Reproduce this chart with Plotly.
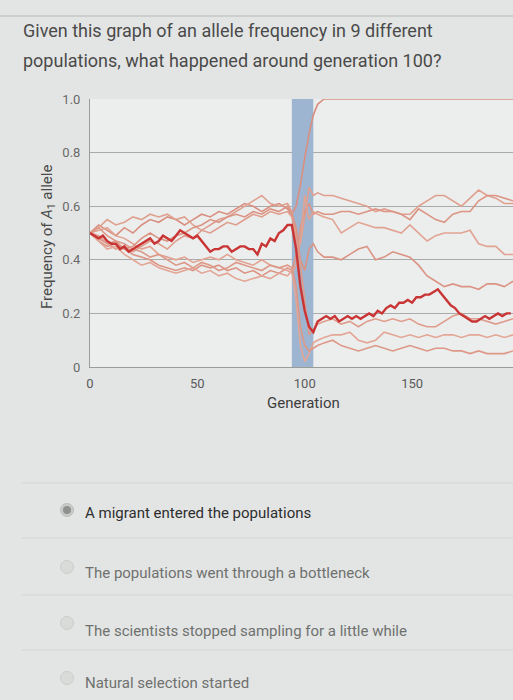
import plotly.graph_objects as go

# ---------------- data ----------------
generations = [0, 4, 8, 12, 16, 20, 24, 28, 32, 36, 40, 44, 48, 52, 56, 60, 64, 68, 72, 76, 80, 84, 88, 92,
               94, 96, 98, 100, 102, 104, 106,
               109, 113, 117, 121, 125, 129, 133, 137, 141, 145, 149, 153, 157, 161, 165, 169, 173, 177, 181,
               185, 189, 193, 197]
generations_main = list(range(0, 93, 2)) + [94, 96, 98, 100, 102, 104, 106] + list(range(108, 197, 2))

pop_fixed = [0.50, 0.53, 0.51, 0.49, 0.52, 0.50, 0.53, 0.55, 0.54, 0.56, 0.55, 0.53, 0.55, 0.57, 0.56, 0.58,
             0.57, 0.59, 0.61, 0.60, 0.58, 0.60, 0.61, 0.59,
             0.57, 0.60, 0.68, 0.78, 0.87, 0.94, 0.98,
             1.0, 1.0, 1.0, 1.0, 1.0, 1.0, 1.0, 1.0, 1.0, 1.0, 1.0, 1.0, 1.0, 1.0, 1.0, 1.0, 1.0, 1.0, 1.0,
             1.0, 1.0, 1.0, 1.0]
pop_a = [0.50, 0.52, 0.55, 0.53, 0.54, 0.56, 0.55, 0.57, 0.56, 0.57, 0.55, 0.56, 0.53, 0.51, 0.53, 0.55,
         0.56, 0.58, 0.60, 0.62, 0.64, 0.61, 0.60, 0.61,
         0.58, 0.50, 0.46, 0.56, 0.67, 0.64, 0.65,
         0.64, 0.64, 0.63, 0.62, 0.61, 0.60, 0.58, 0.59, 0.58, 0.57, 0.57, 0.60, 0.62, 0.64, 0.64, 0.62,
         0.60, 0.63, 0.66, 0.64, 0.63, 0.61, 0.61]
pop_b = [0.50, 0.48, 0.46, 0.47, 0.44, 0.42, 0.41, 0.40, 0.38, 0.37, 0.36, 0.37, 0.36, 0.38, 0.37, 0.38,
         0.36, 0.37, 0.35, 0.36, 0.34, 0.36, 0.35, 0.37,
         0.36, 0.42, 0.52, 0.58, 0.61, 0.57, 0.58,
         0.57, 0.57, 0.58, 0.58, 0.57, 0.58, 0.59, 0.58, 0.58, 0.57, 0.55, 0.59, 0.57, 0.55, 0.54, 0.57,
         0.58, 0.58, 0.62, 0.64, 0.64, 0.63, 0.62]
pop_c = [0.50, 0.51, 0.52, 0.49, 0.48, 0.46, 0.44, 0.45, 0.42, 0.41, 0.40, 0.41, 0.39, 0.40, 0.41, 0.40,
         0.42, 0.40, 0.39, 0.38, 0.40, 0.38, 0.37, 0.36,
         0.35, 0.38, 0.47, 0.64, 0.55, 0.58, 0.57,
         0.56, 0.55, 0.50, 0.52, 0.54, 0.53, 0.52, 0.52, 0.51, 0.50, 0.53, 0.50, 0.47, 0.49, 0.50, 0.50,
         0.50, 0.51, 0.46, 0.45, 0.45, 0.42, 0.42]
pop_d = [0.50, 0.47, 0.45, 0.46, 0.44, 0.45, 0.48, 0.50, 0.48, 0.47, 0.49, 0.50, 0.52, 0.53, 0.55, 0.54,
         0.56, 0.57, 0.56, 0.58, 0.57, 0.59, 0.58, 0.60,
         0.57, 0.52, 0.40, 0.36, 0.44, 0.46, 0.43,
         0.41, 0.41, 0.40, 0.42, 0.44, 0.45, 0.40, 0.41, 0.43, 0.42, 0.41, 0.38, 0.34, 0.32, 0.30, 0.31,
         0.30, 0.30, 0.29, 0.31, 0.31, 0.30, 0.32]
pop_e = [0.50, 0.49, 0.46, 0.44, 0.45, 0.43, 0.45, 0.47, 0.46, 0.44, 0.47, 0.49, 0.48, 0.51, 0.50, 0.52,
         0.54, 0.53, 0.55, 0.57, 0.56, 0.58, 0.57, 0.58,
         0.56, 0.48, 0.38, 0.24, 0.12, 0.14, 0.16,
         0.17, 0.18, 0.16, 0.17, 0.15, 0.17, 0.18, 0.17, 0.18, 0.17, 0.18, 0.16, 0.15, 0.15, 0.17, 0.19,
         0.20, 0.18, 0.18, 0.17, 0.16, 0.17, 0.18]
pop_f = [0.50, 0.47, 0.44, 0.45, 0.42, 0.40, 0.38, 0.39, 0.37, 0.36, 0.35, 0.36, 0.37, 0.35, 0.36, 0.34,
         0.35, 0.33, 0.32, 0.33, 0.34, 0.33, 0.35, 0.34,
         0.36, 0.25, 0.08, 0.02, 0.05, 0.09, 0.10,
         0.11, 0.12, 0.12, 0.13, 0.10, 0.09, 0.10, 0.13, 0.12, 0.11, 0.12, 0.11, 0.12, 0.11, 0.12, 0.12,
         0.11, 0.12, 0.12, 0.11, 0.12, 0.11, 0.12]
pop_g = [0.50, 0.52, 0.49, 0.47, 0.46, 0.44, 0.43, 0.41, 0.42, 0.40, 0.38, 0.39, 0.37, 0.39, 0.38, 0.36,
         0.37, 0.39, 0.38, 0.37, 0.36, 0.38, 0.37, 0.38,
         0.37, 0.30, 0.15, 0.08, 0.06, 0.07, 0.08,
         0.09, 0.10, 0.08, 0.07, 0.06, 0.07, 0.08, 0.07, 0.06, 0.07, 0.08, 0.07, 0.06, 0.07, 0.07, 0.06,
         0.06, 0.05, 0.06, 0.05, 0.05, 0.05, 0.06]
pop_main = [0.50, 0.49, 0.48, 0.49, 0.47, 0.46, 0.46, 0.44, 0.45, 0.43, 0.44, 0.45, 0.46, 0.47, 0.48, 0.46,
            0.47, 0.49, 0.48, 0.47, 0.49, 0.51, 0.50, 0.49, 0.48, 0.49, 0.47, 0.45, 0.43, 0.44, 0.44, 0.45,
            0.45, 0.43, 0.44, 0.45, 0.45, 0.44, 0.44, 0.42, 0.46, 0.45, 0.48, 0.47, 0.50, 0.51, 0.53,
            0.53, 0.44, 0.30, 0.21, 0.15, 0.13, 0.17,
            0.18, 0.19, 0.18, 0.19, 0.17, 0.18, 0.19, 0.18, 0.19, 0.18, 0.19, 0.20, 0.19, 0.21, 0.20, 0.22,
            0.23, 0.22, 0.24, 0.24, 0.25, 0.24, 0.26, 0.26, 0.27, 0.27, 0.28, 0.29, 0.27, 0.25, 0.23, 0.22,
            0.20, 0.19, 0.18, 0.17, 0.17, 0.18, 0.19, 0.18, 0.19, 0.20, 0.19, 0.20, 0.20]

light_pops = [pop_fixed, pop_a, pop_b, pop_c, pop_d, pop_e, pop_f, pop_g]

event_start, event_end = 94, 104

x_tick_vals = [0, 50, 100, 150]
x_tick_text = ["0", "50", "100", "150"]
y_tick_vals = [0, 0.2, 0.4, 0.6, 0.8, 1.0]
y_tick_text = ["0", "0.2", "0.4", "0.6", "0.8", "1.0"]

question_lines = ["Given this graph of an allele frequency in 9 different",
                  "populations, what happened around generation 100?"]
options = ["A migrant entered the populations",
           "The populations went through a bottleneck",
           "The scientists stopped sampling for a little while",
           "Natural selection started"]

# ---------------- layout geometry ----------------
W, H = 513, 700
L, R, T, B = 90, 0, 99, 333
PW, PH = W - L - R, H - T - B


def px(x):
    return (x - L) / PW


def py(y):
    return (H - B - y) / PH


light_colors = ["#d98f80", "#e0a090", "#dc9484", "#e2a393", "#db9383", "#df9c8c", "#e3a696", "#dd9888"]

fig = go.Figure()
for vals, col in zip(light_pops, light_colors):
    fig.add_trace(go.Scatter(x=generations, y=vals, mode="lines",
                             line=dict(color=col, width=1.6), hoverinfo="skip"))
fig.add_trace(go.Scatter(x=generations_main, y=pop_main, mode="lines",
                         line=dict(color="#c93434", width=2.4), hoverinfo="skip"))

shapes = [
    dict(type="rect", xref="x", yref="y", x0=event_start, x1=event_end, y0=0, y1=1,
         fillcolor="#9db5d0", line=dict(width=0), layer="between"),
    dict(type="line", xref="paper", yref="paper", x0=px(0), x1=px(W), y0=py(16), y1=py(16),
         line=dict(color="#b8bab8", width=1)),
]
# separators between answer options
for ysep in [483, 538, 595, 650]:
    shapes.append(dict(type="line", xref="paper", yref="paper", x0=px(22), x1=px(W), y0=py(ysep), y1=py(ysep),
                       line=dict(color="#d3d5d3", width=1)))

annotations = []
for i, line in enumerate(question_lines):
    annotations.append(dict(text=line, xref="paper", yref="paper", x=px(21), y=py(30 + 31 * i),
                            xanchor="left", yanchor="middle", showarrow=False,
                            font=dict(family="Roboto", size=18, color="#4a4a4a")))

opt_y = [513, 573, 631, 683]
circle_y = [510, 567, 623, 678]
for i, (txt, yy, cy) in enumerate(zip(options, opt_y, circle_y)):
    annotations.append(dict(text=txt, xref="paper", yref="paper", x=px(83), y=py(yy),
                            xanchor="left", yanchor="middle", showarrow=False,
                            font=dict(family="Roboto", size=15,
                                      color="#2e2e2e" if i == 0 else "#6f716f")))
    if i == 0:
        shapes.append(dict(type="circle", xref="paper", yref="paper", xsizemode="pixel", ysizemode="pixel",
                           xanchor=px(67), yanchor=py(cy), x0=-6.5, x1=6.5, y0=-6.5, y1=6.5,
                           fillcolor="#c9cbc9", line=dict(color="#bdbfbd", width=1)))
        shapes.append(dict(type="circle", xref="paper", yref="paper", xsizemode="pixel", ysizemode="pixel",
                           xanchor=px(67), yanchor=py(cy), x0=-4, x1=4, y0=-4, y1=4,
                           fillcolor="#8f918f", line=dict(width=0)))
    else:
        shapes.append(dict(type="circle", xref="paper", yref="paper", xsizemode="pixel", ysizemode="pixel",
                           xanchor=px(67), yanchor=py(cy), x0=-6.5, x1=6.5, y0=-6.5, y1=6.5,
                           fillcolor="#d9dbd9", line=dict(color="#cbcdcb", width=1)))

annotations.append(dict(text="Frequency of <i>A</i><sub>1</sub> allele", xref="paper", yref="paper",
                        x=px(48), y=py(237), textangle=-90, showarrow=False,
                        xanchor="center", yanchor="middle",
                        font=dict(family="Roboto", size=15, color="#4a4a4a")))
annotations.append(dict(text="Generation", xref="paper", yref="paper", x=px(303), y=py(403),
                        showarrow=False, xanchor="center", yanchor="middle",
                        font=dict(family="Roboto", size=15, color="#3e3e3e")))

fig.update_layout(
    width=W, height=H, autosize=False,
    margin=dict(l=L, r=R, t=T, b=B, pad=0),
    paper_bgcolor="#e3e5e4", plot_bgcolor="#eceeed",
    showlegend=False,
    shapes=shapes, annotations=annotations,
    xaxis=dict(range=[0, 197], tickvals=x_tick_vals, ticktext=x_tick_text, showgrid=False,
               zeroline=False, showline=True, linecolor="#9a9c9a", linewidth=1,
               ticks="", ticklabelstandoff=4,
               tickfont=dict(family="Roboto", size=13, color="#5a5a5a"), fixedrange=True),
    yaxis=dict(range=[0, 1], tickvals=y_tick_vals, ticktext=y_tick_text, showgrid=True,
               gridcolor="#a9abaa", gridwidth=1, zeroline=False, showline=True,
               linecolor="#9a9c9a", linewidth=1, ticks="", ticklabelstandoff=6,
               tickfont=dict(family="Roboto", size=13, color="#6a6a6a"), fixedrange=True),
)

fig.write_html("out.html", config={"displayModeBar": False},
               post_script="document.body.style.margin='0';document.body.style.overflow='hidden';")
